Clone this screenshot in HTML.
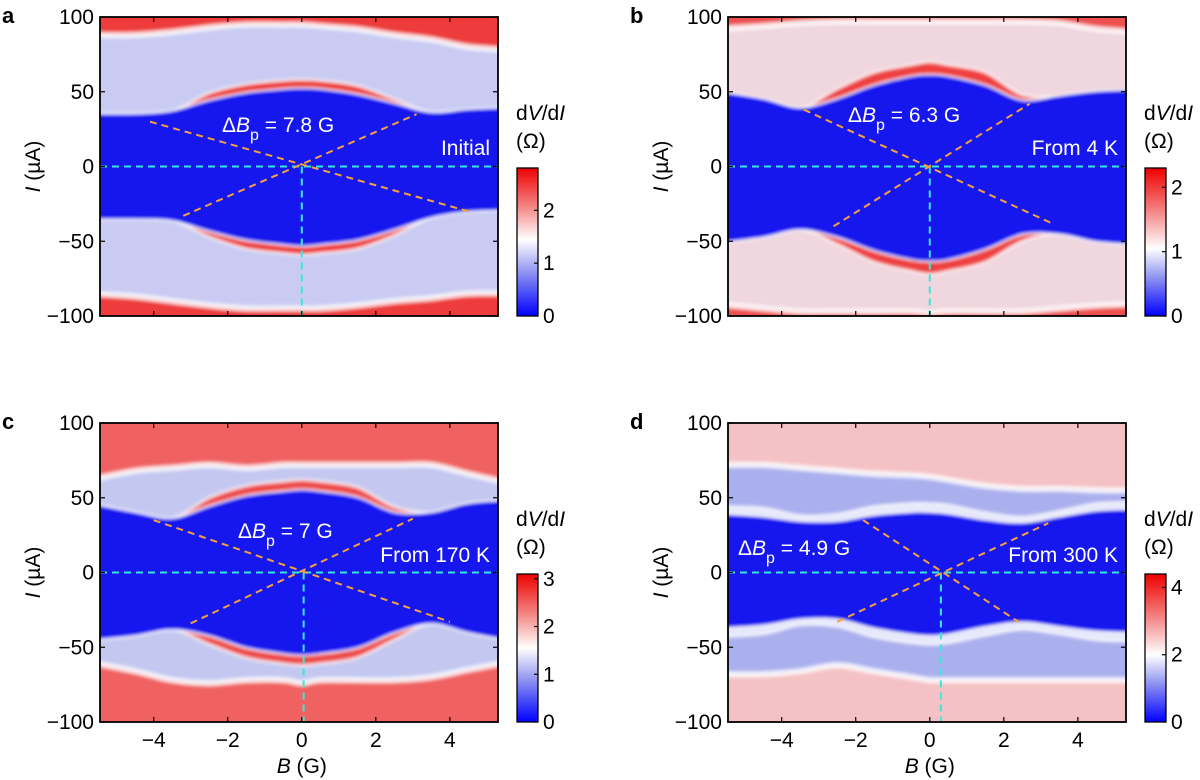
<!DOCTYPE html>
<html><head><meta charset="utf-8">
<style>
html,body{margin:0;padding:0;background:#fff;}
svg{display:block;font-family:"Liberation Sans",Arial,sans-serif;}
</style></head>
<body>
<svg id="fig" width="1200" height="780" viewBox="0 0 1200 780">
<defs>
<filter id="soft" x="-5%" y="-5%" width="110%" height="110%"><feGaussianBlur stdDeviation="1.6"/></filter>
</defs>
</svg>
<script>
// shared field samples (G)
const fieldB = [-5.45,-4.5,-3.5,-2.5,-1.5,-0.5,0,0.5,1.5,2.5,3.5,4.5,5.3];
// panel a
const aLensTop = [35,35,37,44,49,51.5,52,51.5,48,42,36,38,39];
const aLensBot = [-35,-35,-36,-43,-49,-52,-53,-52,-49,-42,-34,-30,-29];
const aArcTop  = [35,35,37,49,55,57.5,58,57.5,54,45,36,38,39];
const aArcBot  = [-35,-35,-36,-47,-55,-58,-59,-58,-55,-46,-34,-30,-29];
const aOutTop  = [88,88,90,93,95,95,95,94,92,88,85,80,78];
const aOutBot  = [-85,-87,-90,-93,-95,-95,-95,-95,-93,-90,-88,-85,-85];
const aTicks = [0,1,2], aMax = 2.8, aDelta = "7.8", aLabel = "Initial", aCenter = 0;
const aCross1 = [[-4.1,30],[4.5,-30]], aCross2 = [[-3.2,-33],[3.1,35]];
// panel b
const bLensTop = [50,45,39,45,54,60,61,60,54,44,47,50,51];
const bLensBot = [-51,-47,-42,-47,-56,-62,-63,-62,-55,-45,-45,-50,-52];
const bArcTop  = [50,45,39,52,63,68,70,68,63,48,47,50,51];
const bArcBot  = [-51,-47,-42,-52,-64,-70,-72,-70,-64,-50,-45,-50,-52];
const bOutTop  = [92,94,96,97,97,97,97,97,97,97,96,92,90];
const bOutBot  = [-92,-95,-97,-97,-97,-97,-98,-97,-97,-97,-95,-93,-92];
const bTicks = [0,1,2], bMax = 2.3, bDelta = "6.3", bLabel = "From 4 K", bCenter = 0;
const bCross1 = [[-3.4,38],[3.3,-38]], bCross2 = [[-2.6,-40],[2.7,42]];
// panel c
const cLensTop = [46,40,36,44,51,54,55,54,50,40,40,46,48];
const cLensBot = [-45,-42,-38,-42,-50,-54,-55,-54,-50,-40,-34,-40,-45];
const cArcTop  = [46,40,36,50,58,61,62,61,57,44,40,46,48];
const cArcBot  = [-45,-42,-38,-48,-57,-61,-62,-61,-57,-45,-34,-40,-45];
const cOutTop  = [62,68,70,72,70,72,72,72,72,72,72,66,60];
const cOutBot  = [-60,-66,-72,-74,-72,-72,-74,-72,-72,-72,-70,-65,-60];
const cTicks = [0,1,2,3], cMax = 3.1, cDelta = "7", cLabel = "From 170 K", cCenter = 0.05;
const cCross1 = [[-4.0,35],[4.0,-33]], cCross2 = [[-3.0,-34],[3.0,36]];
// panel d
const dLensTop = [39,37,34,34,38,40,40,39,35,33,37,41,42];
const dLensBot = [-37,-35,-31,-31,-37,-41,-42,-41,-36,-33,-36,-39,-40];
const dArcTop  = [44,43,38,39,44,46,46,45,40,37,41,46,47];
const dArcBot  = [-43,-41,-35,-36,-43,-47,-48,-47,-42,-38,-41,-45,-46];
const dOutTop  = [72,72,70,68,66,65,64,62,58,56,56,55,55];
const dOutBot  = [-68,-68,-66,-62,-66,-70,-72,-72,-72,-72,-72,-72,-72];
const dTicks = [0,2,4], dMax = 4.4, dDelta = "4.9", dLabel = "From 300 K", dCenter = 0.3;
const dCross1 = [[-1.8,35],[2.4,-33]], dCross2 = [[-2.5,-33],[3.2,33]];

const NS = "http://www.w3.org/2000/svg";
const svg = document.getElementById("fig");
function mk(tag, attrs, parent){
  const e = document.createElementNS(NS, tag);
  for (const k in attrs) e.setAttribute(k, attrs[k]);
  (parent||svg).appendChild(e);
  return e;
}
const W = 398, H = 299, BMIN = -5.45, BMAX = 5.3;
const FS = 21;

function smooth(p, start){
  // Catmull-Rom to cubic bezier
  let d = (start ? "M" : "L") + p[0][0].toFixed(1) + "," + p[0][1].toFixed(1);
  for (let i = 0; i < p.length - 1; i++) {
    const p0 = p[Math.max(0, i - 1)], p1 = p[i], p2 = p[i + 1], p3 = p[Math.min(p.length - 1, i + 2)];
    const c1 = [p1[0] + (p2[0] - p0[0]) / 6, p1[1] + (p2[1] - p0[1]) / 6];
    const c2 = [p2[0] - (p3[0] - p1[0]) / 6, p2[1] - (p3[1] - p1[1]) / 6];
    d += "C" + c1.map(v => v.toFixed(1)).join(",") + " " + c2.map(v => v.toFixed(1)).join(",") + " " + p2[0].toFixed(1) + "," + p2[1].toFixed(1);
  }
  return d;
}

function panel(id, x0, y0, P){
  const xs = b => x0 + (b - BMIN) / (BMAX - BMIN) * W;
  const ys = i => y0 + (100 - i) / 200 * H;
  const g = mk("g", {});
  
  
  const clip = mk("clipPath", {id: "clip" + id}, g);
  mk("rect", {x: x0, y: y0, width: W, height: H}, clip);
  const hm = mk("g", {"clip-path": "url(#clip" + id + ")"}, g);
  
  
  const inner = mk("g", {filter: "url(#soft)"}, hm);
  mk("rect", {x: x0 - 10, y: y0 - 10, width: W + 20, height: H + 20, fill: P.bg}, inner);
  const pp = (arr, rev) => {
    let p = fieldB.map((b, i) => [xs(b), ys(arr[i])]);
    p[0][0] -= 10; p[p.length - 1][0] += 10;
    if (rev) p = p.reverse();
    return p;
  };
  const line = (arr) => smooth(pp(arr), true);
  const band = (a, b) => smooth(pp(a), true) + smooth(pp(b, true), false) + "Z";
  const edgeBand = (a, v) => smooth(pp(a), true) + "L" + (xs(BMAX) + 10) + "," + ys(v) + "L" + (xs(BMIN) - 10) + "," + ys(v) + "Z";
  let e = mk("path", {d: edgeBand(P.outTop, 110), fill: P.outer}, inner);
  
  
  e = mk("path", {d: edgeBand(P.outBot, -110), fill: P.outer}, inner);
  
  
  mk("path", {d: line(P.outTop), fill: "none", stroke: "#fff", "stroke-width": 6, opacity: 0.8}, inner);
  mk("path", {d: line(P.outBot), fill: "none", stroke: "#fff", "stroke-width": 6, opacity: 0.8}, inner);
  e = mk("path", {d: band(P.arcTop, P.lensTop), fill: P.arc}, inner);
  
  
  e = mk("path", {d: band(P.arcBot, P.lensBot), fill: P.arc}, inner);
  
  
  mk("path", {d: line(P.arcTop), fill: "none", stroke: "#fff", "stroke-width": 3, opacity: 0.7}, inner);
  mk("path", {d: line(P.arcBot), fill: "none", stroke: "#fff", "stroke-width": 3, opacity: 0.7}, inner);
  mk("path", {d: line(P.lensTop), fill: "none", stroke: "#fff", "stroke-width": 3}, inner);
  mk("path", {d: line(P.lensBot), fill: "none", stroke: "#fff", "stroke-width": 3}, inner);
  e = mk("path", {d: band(P.lensTop, P.lensBot), fill: "#1212ee"}, inner);
  
  
  // guide lines
  e = mk("line", {x1: x0, y1: ys(0), x2: x0 + W, y2: ys(0), stroke: "#38e8d8", "stroke-width": 2, "stroke-dasharray": "7,5"}, hm);
  
  
  e = mk("line", {x1: xs(P.center), y1: ys(0), x2: xs(P.center), y2: y0 + H, stroke: "#38e8d8", "stroke-width": 2, "stroke-dasharray": "7,5"}, hm);
  
  
  [P.c1, P.c2].forEach(c => {
    const l = mk("line", {x1: xs(c[0][0]), y1: ys(c[0][1]), x2: xs(c[1][0]), y2: ys(c[1][1]), stroke: "#f4a040", "stroke-width": 2, "stroke-dasharray": "7,5"}, hm);
    
    
  });
  // annotations
  const t1 = mk("text", {x: P.dx, y: P.dy, fill: "#fff", "font-size": FS}, g);
  
  
  t1.setAttribute("xml:space", "preserve");
  t1.innerHTML = 'Δ<tspan font-style="italic">B</tspan><tspan font-size="16" dy="8">p</tspan><tspan dy="-8">  = ' + P.delta + ' G</tspan>';
  const t2 = mk("text", {x: x0 + W - 8, y: P.ly, fill: "#fff", "font-size": FS, "text-anchor": "end"}, g);
  
  
  t2.textContent = P.label;
  const fr = mk("rect", {x: x0, y: y0, width: W, height: H, fill: "none", stroke: "#000", "stroke-width": 1.8}, g);
  
  
  [-4,-2,0,2,4].forEach(b => {
    mk("line", {x1: xs(b), y1: y0 + H, x2: xs(b), y2: y0 + H - 5, stroke: "#000", "stroke-width": 1.2}, g);
    mk("line", {x1: xs(b), y1: y0, x2: xs(b), y2: y0 + 5, stroke: "#000", "stroke-width": 1.2}, g);
    if (P.xlabels) {
      const t = mk("text", {x: xs(b), y: y0 + H + 25, "font-size": FS, "text-anchor": "middle"}, g);
      
      
      t.textContent = b < 0 ? "−" + (-b) : "" + b;
    }
  });
  [100,50,0,-50,-100].forEach(v => {
    mk("line", {x1: x0, y1: ys(v), x2: x0 + 5, y2: ys(v), stroke: "#000", "stroke-width": 1.2}, g);
    mk("line", {x1: x0 + W, y1: ys(v), x2: x0 + W - 5, y2: ys(v), stroke: "#000", "stroke-width": 1.2}, g);
    const t = mk("text", {x: x0 - 6, y: ys(v) + 7, "font-size": FS, "text-anchor": "end"}, g);
    
    
    t.textContent = v < 0 ? "−" + (-v) : "" + v;
  });
  const yt = mk("text", {x: 0, y: 0, "font-size": FS, "text-anchor": "middle", transform: "translate(" + (x0 - 60) + "," + (y0 + H / 2) + ") rotate(-90)"}, g);
  
  
  yt.innerHTML = '<tspan font-style="italic">I</tspan> (µA)';
  if (P.xlabels) {
    const xt = mk("text", {x: xs(0), y: y0 + H + 51, "font-size": FS, "text-anchor": "middle"}, g);
    
    
    xt.innerHTML = '<tspan font-style="italic">B</tspan> (G)';
  }
  const pl = mk("text", {x: x0 - 98, y: y0 + 6, "font-size": 22, "font-weight": "bold"}, g);
  
  
  pl.textContent = id;
  // colorbar
  const cx = x0 + W + 19, cy = y0 + 151, ch = 148, cw = 21;
  const grad = mk("linearGradient", {id: "cb" + id, x1: 0, y1: 1, x2: 0, y2: 0}, svg.querySelector("defs"));
  const wpos = P.white / P.max;
  [[0, "#0000ff"], [wpos * 0.55, "#8a8ef0"], [wpos, "#ffffff"], [Math.min(1, wpos + (1 - wpos) * 0.45), "#f48888"], [1, "#ee0000"]].forEach(s => mk("stop", {offset: s[0], "stop-color": s[1]}, grad));
  const cb = mk("rect", {x: cx, y: cy, width: cw, height: ch, fill: "url(#cb" + id + ")", stroke: "#000", "stroke-width": 1.3}, g);
  
  
  P.ticks.forEach(v => {
    const yy = cy + ch - v / P.max * ch;
    mk("line", {x1: cx + cw, y1: yy, x2: cx + cw - 4, y2: yy, stroke: "#000", "stroke-width": 1.2}, g);
    const t = mk("text", {x: cx + cw + 5, y: yy + 7, "font-size": FS}, g);
    
    
    t.textContent = v;
  });
  const ct = mk("text", {x: cx - 1, y: cy - 48, "font-size": FS}, g);
  
  
  ct.innerHTML = 'd<tspan font-style="italic">V</tspan>/d<tspan font-style="italic">I</tspan>';
  const cu = mk("text", {x: cx - 1, y: cy - 20, "font-size": FS}, g);
  
  
  cu.textContent = "(Ω)";
}

panel("a", 100, 17, {lensTop: aLensTop, lensBot: aLensBot, arcTop: aArcTop, arcBot: aArcBot, outTop: aOutTop, outBot: aOutBot,
  bg: "#c9cbf2", outer: "#ee3a3a", arc: "#ee3535", ticks: aTicks, max: aMax, white: 1.45, delta: aDelta, label: aLabel,
  center: aCenter, c1: aCross1, c2: aCross2, dx: 222, dy: 132, ly: 155, xlabels: false});
panel("b", 728, 17, {lensTop: bLensTop, lensBot: bLensBot, arcTop: bArcTop, arcBot: bArcBot, outTop: bOutTop, outBot: bOutBot,
  bg: "#f0d6de", outer: "#ee5050", arc: "#ee4040", ticks: bTicks, max: bMax, white: 1.05, delta: bDelta, label: bLabel,
  center: bCenter, c1: bCross1, c2: bCross2, dx: 848, dy: 122, ly: 155, xlabels: false});
panel("c", 100, 423, {lensTop: cLensTop, lensBot: cLensBot, arcTop: cArcTop, arcBot: cArcBot, outTop: cOutTop, outBot: cOutBot,
  bg: "#c4c7f0", outer: "#f06262", arc: "#ee4848", ticks: cTicks, max: cMax, white: 1.55, delta: cDelta, label: cLabel,
  center: cCenter, c1: cCross1, c2: cCross2, dx: 238, dy: 538, ly: 562, xlabels: true});
panel("d", 728, 423, {lensTop: dLensTop, lensBot: dLensBot, arcTop: dArcTop, arcBot: dArcBot, outTop: dOutTop, outBot: dOutBot,
  bg: "#aab0ee", outer: "#f4c2c4", arc: "#e4e6fa", ticks: dTicks, max: dMax, white: 2.0, delta: dDelta, label: dLabel,
  center: dCenter, c1: dCross1, c2: dCross2, dx: 738, dy: 555, ly: 562, xlabels: true});
</script>
</body></html>
